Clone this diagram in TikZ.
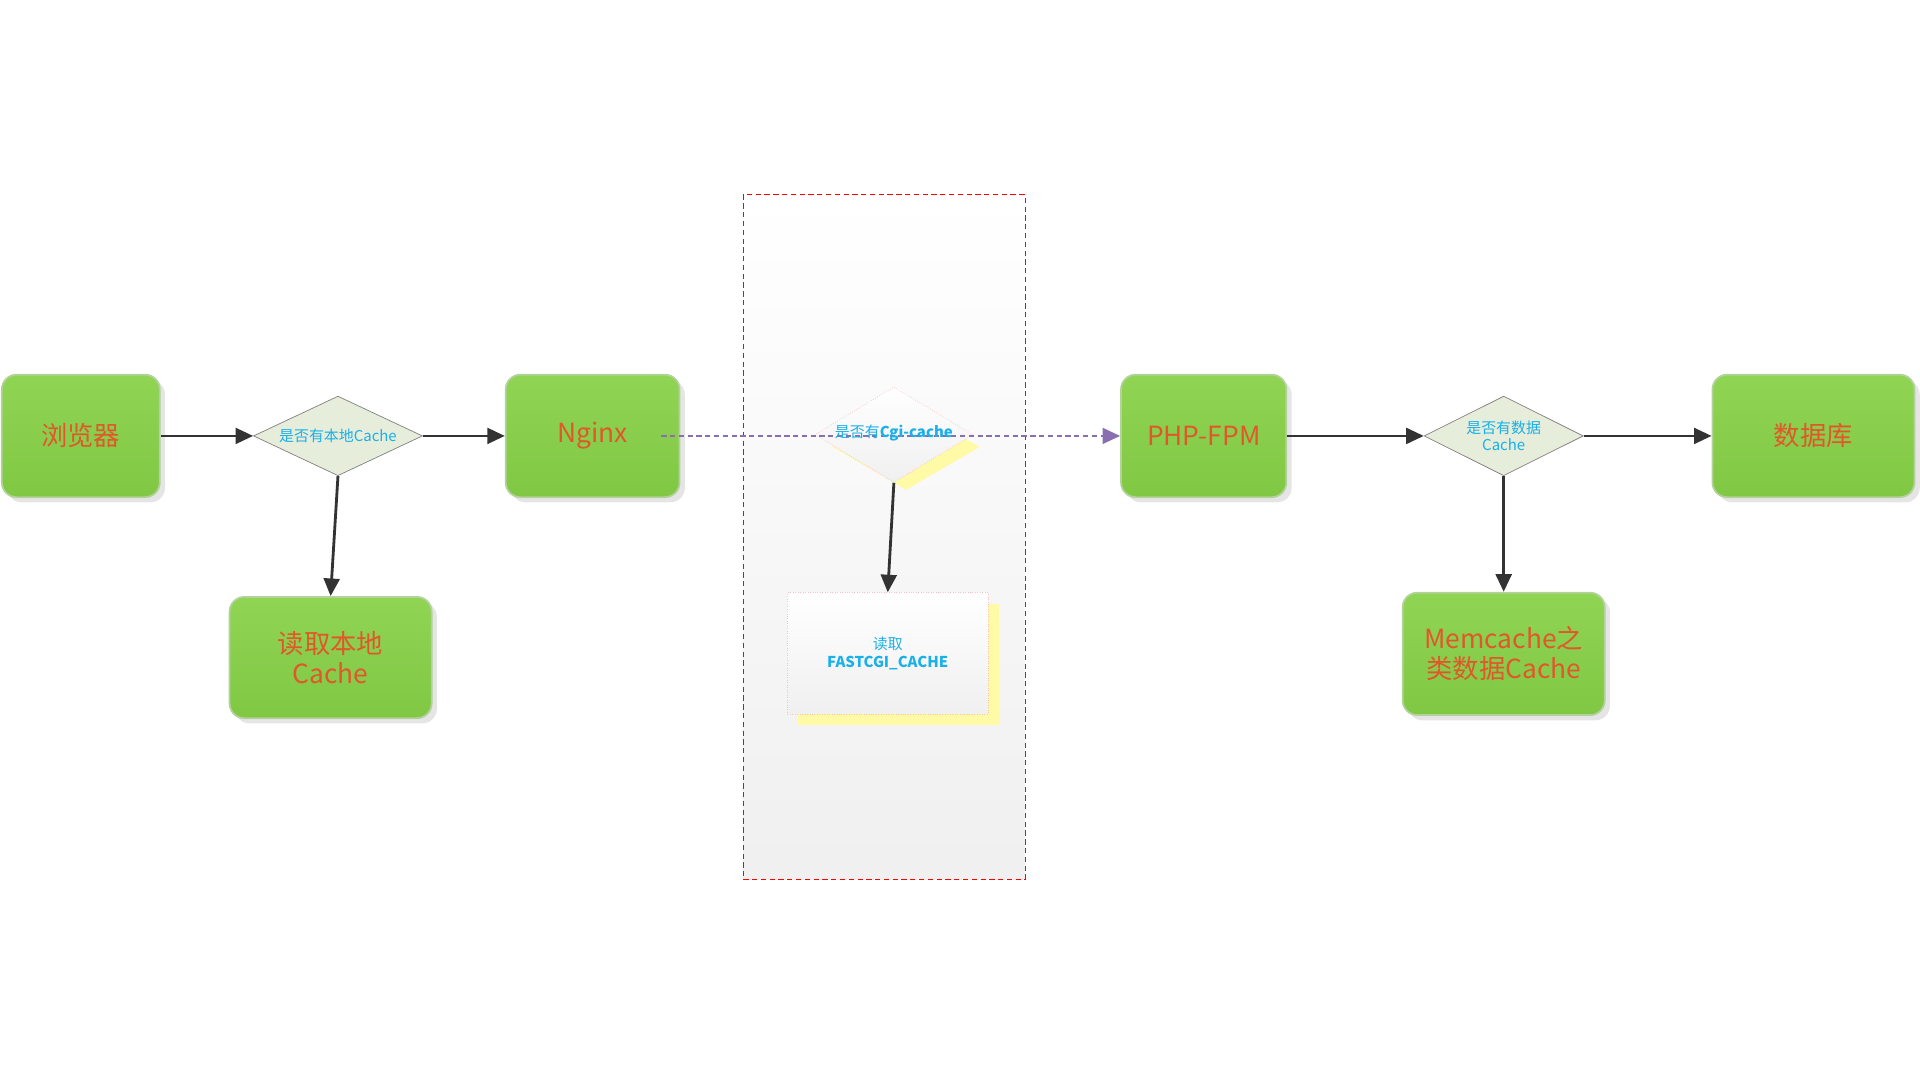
\documentclass[tikz,border=0pt]{standalone}
\usepackage{fontspec}
\setmainfont{Noto Sans CJK SC}
\usetikzlibrary{shapes.geometric,shadows,arrows.meta}
\definecolor{boxgreen}{HTML}{80C844}
\definecolor{boxgreentop}{HTML}{90D454}
\definecolor{txtorange}{HTML}{E2572A}
\definecolor{txtblue}{HTML}{1AB0E8}
\definecolor{dmfill}{HTML}{E6EDDB}
\definecolor{linedark}{HTML}{333333}
\definecolor{flowpurple}{HTML}{8A6FB0}
\tikzset{
  block/.style={rectangle, rounded corners=12*0.02449cm, draw=boxgreen!70!gray!60, line width=1pt,
    top color=boxgreentop, bottom color=boxgreen, text=txtorange, font=\fontsize{15}{17}\selectfont,
    align=center, drop shadow={shadow xshift=3pt, shadow yshift=-3pt, fill=gray!40}},
  decision/.style={diamond, aspect=2.1, inner sep=0pt, draw=gray, fill=dmfill, text=txtblue,
    font=\fontsize{8.5}{10}\selectfont, align=center},
  flow/.style={-{Triangle[length=10pt,width=9pt]}, line width=1.6pt, draw=linedark}
}
\begin{document}
\begin{tikzpicture}[x=0.02449cm, y=-0.02449cm]
  \useasboundingbox (0,0) rectangle (1568,882);
  % Cache region
  \node [rectangle, draw=red, densely dashed, top color=white, bottom color=gray!12,
         minimum width=230*0.02449cm, minimum height=559*0.02449cm] (region) at (722,438.5) {};
  % Blocks
  \node [block, minimum width=129*0.02449cm, minimum height=100*0.02449cm] (browser) at (66,356) {浏览器};
  \node [decision, minimum width=138*0.02449cm, minimum height=65*0.02449cm] (local) at (276,356) {是否有本地Cache};
  \node [block, minimum width=165*0.02449cm, minimum height=99*0.02449cm] (readlocal) at (270,537) {读取本地\\Cache};
  \node [block, minimum width=142*0.02449cm, minimum height=100*0.02449cm] (nginx) at (484,356) {Nginx};
  \fill [yellow!35] (680,365) -- (740,330) -- (800,365) -- (740,400) -- cycle;
  \node [diamond, aspect=1.65, inner sep=0pt, draw=pink, densely dotted, top color=white, bottom color=gray!12,
         minimum width=129*0.02449cm, minimum height=78*0.02449cm] (cgi) at (730,355) {};
  \fill [yellow!35] (652,493) rectangle (816,592);
  \node [rectangle, draw=pink, densely dotted, top color=white, bottom color=gray!12, text=txtblue,
         font=\fontsize{8.5}{10}\selectfont, align=center,
         minimum width=164*0.02449cm, minimum height=99*0.02449cm] (readcgi) at (725,533.5) {读取\\\textbf{FASTCGI\_CACHE}};
  \node [block, minimum width=135*0.02449cm, minimum height=100*0.02449cm] (php) at (983,356) {PHP-FPM};
  \node [decision, minimum width=130*0.02449cm, minimum height=65*0.02449cm] (data) at (1228,356) {是否有数据\\Cache};
  \node [block, minimum width=165*0.02449cm, minimum height=100*0.02449cm] (memc) at (1228,534) {Memcache之\\类数据Cache};
  \node [block, minimum width=165*0.02449cm, minimum height=100*0.02449cm] (db) at (1481,356) {数据库};

  % Connections
  \draw [flow] (browser) -- (local);
  \draw [flow] (local) -- (nginx);
  \draw [flow] (local.south) -- (readlocal.north);
  \coordinate (nginxout) at (540,356);
  \draw [-{Triangle[length=10pt,width=9pt]}, flowpurple, line width=1.3pt, dashed, dash pattern=on 3pt off 2pt]
        (nginxout) -- (php.west);
  \node [text=txtblue, font=\fontsize{8.5}{10}\selectfont] (cgilabel) at (730,354) {是否有\textbf{Cgi-cache}};
  \draw [flow] (cgi.south) -- (readcgi.north);
  \draw [flow] (php) -- (data);
  \draw [flow] (data) -- (db);
  \draw [flow] (data.south) -- (memc.north);
\end{tikzpicture}
\end{document}
